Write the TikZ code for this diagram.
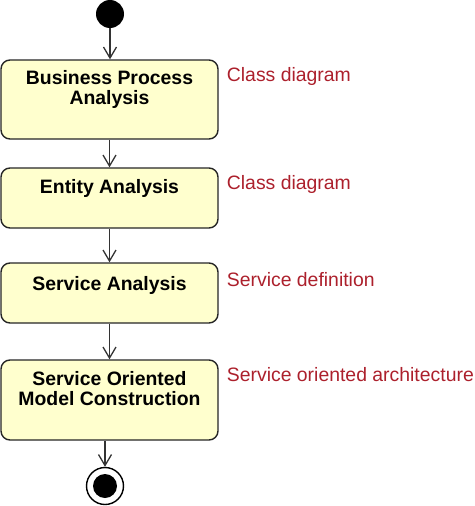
\documentclass[tikz,border=0pt]{standalone}
\usepackage{fontspec}
\setmainfont{Liberation Sans}
\usetikzlibrary{arrows.meta}
\definecolor{actfill}{RGB}{255,255,206}
\definecolor{notered}{RGB}{172,32,44}
\newcommand{\padb}[1]{\rule[-#1]{0pt}{#1}}
\begin{document}
\begin{tikzpicture}[x=1pt,y=1pt]
	\tikzstyle{act}=[draw=black!85,fill=actfill,line width=1.4pt,rounded corners=9pt,minimum width=217pt,inner sep=0pt,align=center,font=\bfseries\fontsize{19.4}{20}\selectfont]
	\tikzstyle{note}=[anchor=north west,inner sep=0pt,text=notered,font=\fontsize{19.4}{20}\selectfont]
	\tikzstyle{flow}=[draw=black!80,line width=1.3pt,-{Straight Barb[length=11pt,width=13pt,line width=1.3pt]}]
	\useasboundingbox (0,0) rectangle (474,-506);
	\node [circle,fill=black,minimum size=28pt,inner sep=0pt] (start) at (110,-14) {};
	\node [act,minimum height=79pt] (b1) at (109.5,-99.5) {Business Process\\Analysis\padb{24pt}};
	\node [act,minimum height=60pt] (b2) at (109.5,-198) {Entity Analysis\padb{24pt}};
	\node [act,minimum height=60pt] (b3) at (109.5,-293) {Service Analysis\padb{20pt}};
	\node [act,minimum height=80pt] (b4) at (109.5,-400) {Service Oriented\\Model Construction\padb{24pt}};
	\node [circle,draw=black,line width=1.4pt,fill=white,minimum size=37pt,inner sep=0pt] (fin) at (105,-486) {};
	\node [circle,fill=black,minimum size=24pt,inner sep=0pt] (finin) at (fin) {};
	% notes
	\node [note] (n1) at ([shift={(8,-8)}]b1.north east) {Class diagram};
	\node [note] (n2) at ([shift={(8,-8)}]b2.north east) {Class diagram};
	\node [note] (n3) at ([shift={(8,-10)}]b3.north east) {Service definition};
	\node [note] (n4) at ([shift={(8,-8)}]b4.north east) {Service oriented architecture};
	% flow
	\draw [flow] (start) -- (b1.north -| start);
	\draw [flow] (b1) -- (b2);
	\draw [flow] (b2) -- (b3);
	\draw [flow] (b3) -- (b4);
	\draw [flow] (b4.south -| fin) -- (fin);
\end{tikzpicture}
\end{document}
